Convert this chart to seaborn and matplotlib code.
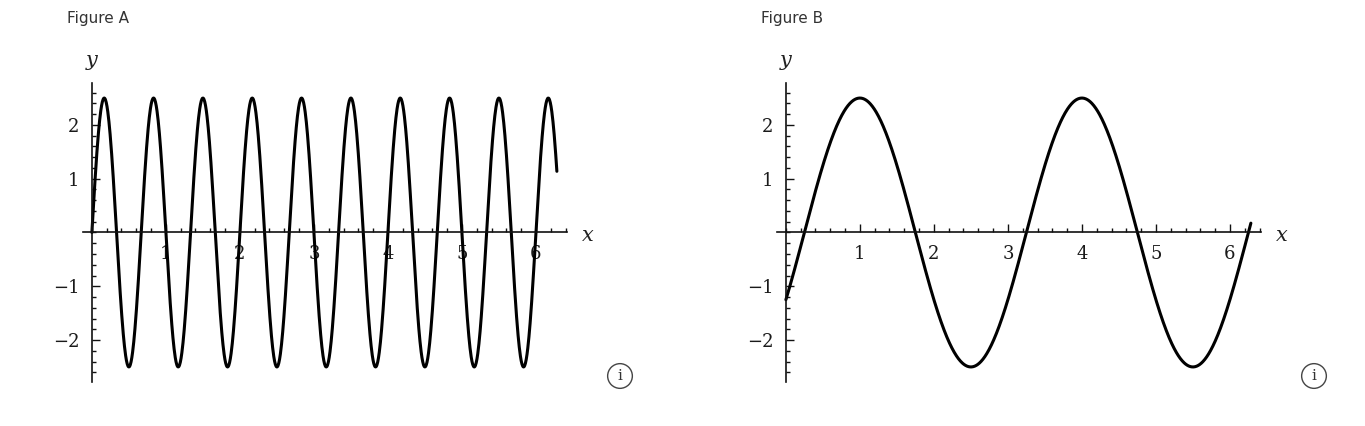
import numpy as np
import pandas as pd
import matplotlib
matplotlib.use("Agg")
import matplotlib.pyplot as plt
from matplotlib.ticker import MultipleLocator, FixedLocator
import seaborn as sns

# ---- data ----
panel_titles = ["Figure A", "Figure B"]
amplitudes = [2.5, 2.5]            # peak height of each curve
periods = [2 / 3, 3.0]             # distance between successive peaks
peak_x = [1 / 6, 1.0]              # x position of a peak
x_start = [0.0, 0.0]
x_end = [2 * np.pi, 2 * np.pi]
x_tick_values = [1, 2, 3, 4, 5, 6]
y_tick_values = [-2, -1, 1, 2]

sns.set_theme(style="white")
plt.rcParams['font.family'] = ['DejaVu Sans']

fig = plt.figure(figsize=(13.65, 4.26), dpi=100)
W, H = 1365, 426

lefts = [83, 777]
for i in range(2):
    x = np.linspace(x_start[i], x_end[i], 1200)
    y = amplitudes[i] * np.sin(2 * np.pi / periods[i] * (x - peak_x[i]) + np.pi / 2)
    df = pd.DataFrame({"x": x, "y": y})
    ax = fig.add_axes([lefts[i] / W, (H - 382) / H, 484 / W, 299 / H])
    sns.lineplot(data=df, x="x", y="y", ax=ax, color="#000000", lw=2.2,
                 sort=False, estimator=None)
    ax.set_xlim(-0.12, 6.42)
    ax.set_ylim(-2.78, 2.78)
    ax.set_xlabel("")
    ax.set_ylabel("")
    for s in ["top", "right"]:
        ax.spines[s].set_visible(False)
    ax.spines["left"].set_position(("data", 0))
    ax.spines["bottom"].set_position(("data", 0))
    for s in ["left", "bottom"]:
        ax.spines[s].set_linewidth(1.2)
        ax.spines[s].set_color("#111111")
    ax.xaxis.set_major_locator(FixedLocator(x_tick_values))
    ax.yaxis.set_major_locator(FixedLocator(y_tick_values))
    ax.xaxis.set_minor_locator(MultipleLocator(0.2))
    ax.yaxis.set_minor_locator(MultipleLocator(0.2))
    ax.set_xticklabels([str(v) for v in x_tick_values])
    ax.set_yticklabels([str(v).replace("-", "\u2212") for v in y_tick_values])
    ax.tick_params(which="both", direction="in", color="#111111", width=1.0,
                   bottom=True, left=True, labelsize=13, labelcolor="#1a1a1a")
    ax.tick_params(which="major", length=6, pad=9)
    ax.tick_params(which="minor", length=3)
    for lab in ax.get_xticklabels() + ax.get_yticklabels():
        lab.set_family("DejaVu Serif")
    ax.patch.set_alpha(0)

    # axis labels
    ax.text(6.42 + 0.2, -0.05, "x", ha="left", va="center", fontsize=15,
            style="italic", family="DejaVu Serif", color="#222222")
    ax.text(0, 2.78 + 0.25, "y", ha="center", va="bottom", fontsize=15,
            style="italic", family="DejaVu Serif", color="#222222")

    # panel title
    fig.text((lefts[i] - 16) / W, 1 - 19 / H, panel_titles[i], ha="left",
             va="center", fontsize=11, color="#333333")
    # info icon
    fig.text((lefts[i] + 537) / W, 1 - 376 / H, "i", ha="center", va="center",
             fontsize=11, family="DejaVu Serif",
             color="#333333",
             bbox=dict(boxstyle="circle,pad=0.35", fc="white", ec="#444444",
                       lw=1.0))

fig.savefig("out.png", dpi=100)
